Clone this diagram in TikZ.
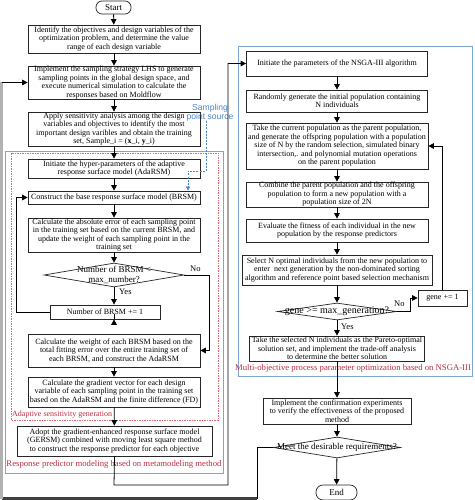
\documentclass[tikz,border=0pt]{standalone}
\usepackage{fontspec}
\setmainfont{Liberation Serif}
\newfontfamily\annfont{Liberation Sans}
\usetikzlibrary{arrows.meta,shapes.geometric}
\definecolor{frameblue}{RGB}{125,165,210}
\definecolor{framered}{RGB}{222,105,115}
\definecolor{labelred}{RGB}{190,45,65}
\definecolor{annblue}{RGB}{75,135,205}
\begin{document}
\begin{tikzpicture}[x=1pt,y=-1pt,
  box/.style={draw=black!85, line width=0.7pt, align=center, inner sep=0pt, font=\fontsize{8}{8.5}\selectfont},
  term/.style={box, rounded corners=6pt, font=\fontsize{9}{10}\selectfont},
  dia/.style={draw=black!85, diamond, line width=0.7pt, inner sep=0pt},
  txt/.style={inner sep=0pt, align=center, font=\fontsize{9}{9.5}\selectfont},
  redlab/.style={inner sep=0pt, text=labelred, font=\fontsize{8.7}{10}\selectfont},
  arr/.style={-{Triangle[length=5.5pt,width=5.5pt]}, line width=0.8pt, black},
  ln/.style={line width=0.8pt, black}]
\useasboundingbox (0,0) rectangle (474,500);
\fill[white] (0,0) rectangle (474,500);

% frames
\draw[frameblue, line width=0.7pt] (5,151) rectangle (223,473);
\draw[framered, line width=0.6pt, dashed, dash pattern=on 1.5pt off 1pt] (11,153) rectangle (218,420);
\draw[frameblue, line width=0.7pt] (238,46) rectangle (472,376);

% left column
\node[term, minimum width=35pt, minimum height=13pt] (start) at (113.5,7.5) {Start};
\node[box, minimum width=172pt, minimum height=28pt] (b1) at (114,39) {Identify the objectives and design variables of the\\optimization problem, and determine the value\\range of each design variable};
\node[box, minimum width=172pt, minimum height=33pt] (b2) at (114,82.5) {Implement the sampling strategy LHS to generate\\sampling points in the global design space, and\\execute numerical simulation to calculate the\\responses based on Moldflow};
\node[box, minimum width=172pt, minimum height=34pt] (b3) at (114,129) {Apply sensitivity analysis among the design\\variables and objectives to identify the most\\important design varibles and obtain the training\\set, Sample\_i = (\textbf{x}\_i, \textbf{y}\_i)};
\node[box, minimum width=172pt, minimum height=19pt] (b4) at (114,168.5) {Initiate the hyper-parameters of the adaptive\\response surface model (AdaRSM)};
\node[box, minimum width=172pt, minimum height=13pt] (b5) at (114,197.5) {Construct the base response surface model (BRSM)};
\node[box, minimum width=172pt, minimum height=34pt] (b6) at (114,235) {Calculate the absolute error of each sampling point\\in the training set based on the current BRSM, and\\update the weight of each sampling point in the\\training set};
\node[dia, minimum width=140pt, minimum height=24pt] (d1) at (114,275) {};
\node[txt] (d1t) at (114,275) {Number of BRSM <\\max\_number?};
\node[box, minimum width=110pt, minimum height=14pt] (b8) at (105,312) {Number of BRSM += 1};
\node[box, minimum width=172pt, minimum height=33pt] (b7) at (114,350.5) {Calculate the weight of each BRSM based on the\\total fitting error over the entire training set of\\each BRSM, and construct the AdaRSM};
\node[box, minimum width=172pt, minimum height=30pt] (b9) at (114,392) {Calculate the gradient vector for each design\\variable of each sampling point in the training set\\based on the AdaRSM and the finite difference (FD)};
\node[box, minimum width=195pt, minimum height=30pt] (b10) at (114.5,441) {Adopt the gradient-enhanced response surface model\\(GERSM) combined with moving least square method\\to construct the response predictor for each objective};

\node[redlab, anchor=west, font=\fontsize{8}{9}\selectfont] (l1) at (12,415) {Adaptive sensitivity generation};
\node[redlab] (l2) at (114,464.5) {Response predictor modeling based on metamodeling method};

\node[txt, anchor=west, font=\fontsize{8.5}{9}\selectfont] (no1) at (190,269) {No};
\node[txt, anchor=west, font=\fontsize{8.5}{9}\selectfont] (yes1) at (119,292) {Yes};

\node[inner sep=0pt, align=center, text=annblue, font=\annfont\fontsize{8.6}{9}\selectfont] (ann) at (210,112.5) {Sampling\\point source};

% right column
\node[box, minimum width=181pt, minimum height=25pt] (n1) at (337,63.5) {Initiate the parameters of the NSGA-III algorithm};
\node[box, minimum width=181pt, minimum height=22pt] (n2) at (337,101) {Randomly generate the initial population containing\\N individuals};
\node[box, minimum width=182pt, minimum height=46pt] (n3) at (337,146) {Take the current population as the parent population,\\and generate the offspring population with a population\\size of N by the random selection, simulated binary\\intersection,. and polynomial mutation operations\\on the parent population};
\node[box, minimum width=182pt, minimum height=25pt] (n4) at (337,194.5) {Combine the parent population and the offspring\\population to form a new population with a\\population size of 2N};
\node[box, minimum width=182pt, minimum height=23pt] (n5) at (337,230.5) {Evaluate the fitness of each individual in the new\\population by the response predictors};
\node[box, minimum width=190pt, minimum height=30pt] (n6) at (337,270) {Select N optimal individuals from the new population to\\enter \ next generation by the non-dominated sorting\\algorithm and reference point based selection mechanism};
\node[dia, minimum width=119pt, minimum height=17pt] (d2) at (337,311.5) {};
\node[txt, font=\fontsize{10}{10}\selectfont] (d2t) at (337,311.5) {gene >= max\_generation?};
\node[box, minimum width=49pt, minimum height=16pt] (g) at (442.5,298) {gene += 1};
\node[box, minimum width=175pt, minimum height=25pt] (n7) at (337,348.5) {Take the selected N individuals as the Pareto-optimal\\solution set, and implement the trade-off analysis\\to determine the better solution};
\node[redlab] (l3) at (353,368.5) {Multi-objective process parameter optimization based on NSGA-III};
\node[box, minimum width=148pt, minimum height=26pt] (n8) at (337,411) {Implement the confirmation experiments\\to verify the effectiveness of the proposed\\method};
\node[dia, minimum width=127pt, minimum height=21pt] (d3) at (337,447.5) {};
\node[txt] (d3t) at (337,447.5) {Meet the desirable requirements?};
\node[term, minimum width=41pt, minimum height=15pt, rounded corners=7pt] (end) at (336.5,492.5) {End};

\node[txt, anchor=west, font=\fontsize{8.5}{9}\selectfont] (no2) at (394,304) {No};
\node[txt, anchor=west, font=\fontsize{8.5}{9}\selectfont] (yes2) at (341,327) {Yes};

% coordinates
\coordinate (c1) at (209,275);
\coordinate (c2) at (16,312);
\coordinate (c3) at (114,485);
\coordinate (c4) at (228,485);
\coordinate (c5) at (410,311.5);
\coordinate (c6) at (257,498.5);
\coordinate (c7) at (1.5,498.5);
\coordinate (c8) at (1.5,82.5);
\coordinate (s1) at (206,121);
\coordinate (s2) at (206,171);
\coordinate (s3) at (188,171);

% left arrows
\draw[arr] (start) -- (b1);
\draw[arr] (b1) -- (b2);
\draw[arr] (b2) -- (b3);
\draw[arr] (b3) -- (b4);
\draw[arr] (b4) -- (b5);
\draw[arr] (b5) -- (b6);
\draw[arr] (b6) -- (d1);
\draw[arr] (d1.south) -- (d1.south |- b8.north);
\draw[arr] (b8.south -| d1.south) -- (b8.south -| d1.south |- b7.north);
\draw[arr] (d1.east) -- (c1) |- (b7.east);
\draw[arr] (b8.west) -- (c2) |- (b5.west);
\draw[arr] (b7) -- (b9);
\draw[arr] (b9) -- (b10);
\draw[arr] (b10.south) -- (c3) -- (c4) |- (n1.west);

% sampling point source
\draw[annblue, line width=0.6pt, dashed, dash pattern=on 2pt off 1.2pt, -{Triangle[length=4pt,width=4pt]}] (s1) -- (s2) -- (s3) -- (s3 |- b5.north);

% right arrows
\draw[arr] (n1) -- (n2);
\draw[arr] (n2) -- (n3);
\draw[arr] (n3) -- (n4);
\draw[arr] (n4) -- (n5);
\draw[arr] (n5) -- (n6);
\draw[arr] (n6) -- (d2);
\draw[arr] (d2) -- (n7);
\draw[arr] (d2.east) -- (c5) |- (g.west);
\draw[arr] (g.north) |- (n3.east);
\draw[arr] (n7) -- (n8);
\draw[arr] (n8) -- (d3);
\draw[arr] (d3) -- (end);

% outer loop
\draw[ln] (d3.west) -| (c6);
\draw[black!75, line width=3pt] (c6) -- (c7);
\draw[gray!60, line width=3pt] (c7) -- (c8);
\draw[arr] (c8) -- (b2.west);
\end{tikzpicture}
\end{document}
